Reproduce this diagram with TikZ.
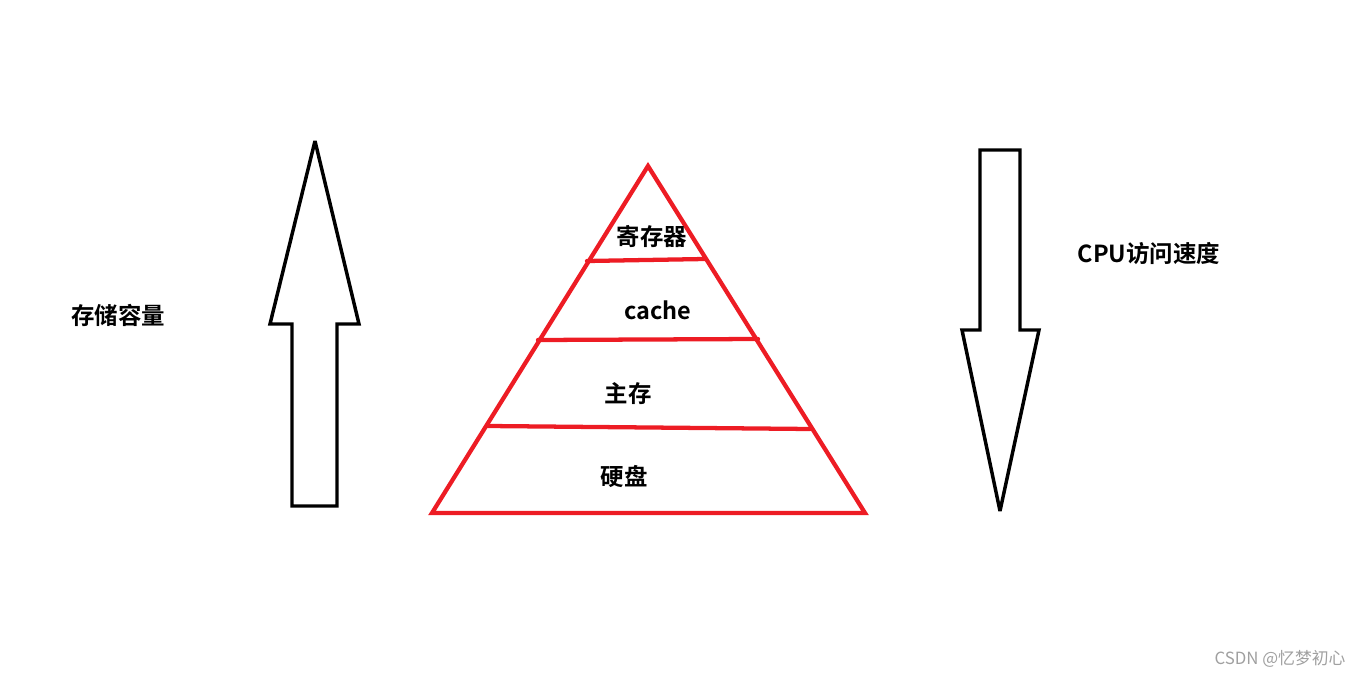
\documentclass[tikz,border=0pt]{standalone}
\usepackage{fontspec}
\setmainfont{Noto Sans CJK SC}
\newfontfamily\cjkb{Noto Sans CJK SC Bold}
\definecolor{pred}{HTML}{ED1C24}
\definecolor{wm}{HTML}{A0A0A0}
\begin{document}
\begin{tikzpicture}[x=0.75pt,y=-0.75pt,
  blk/.style={draw=black,line width=2.6pt,line join=miter,miter limit=4},
  redl/.style={draw=pred,line width=3.2pt,line cap=round,line join=miter},
  lbl/.style={font=\cjkb\fontsize{17.6}{20}\selectfont,inner sep=0pt},
  wmk/.style={font=\fontsize{12.6}{14}\selectfont,text=wm,inner sep=0pt}]
\useasboundingbox (0,0) rectangle (1364,677);
% up arrow
\draw[blk] (315,141) -- (359,324) -- (337,324) -- (337,506) -- (292,506) -- (292,324) -- (270,324) -- cycle;
% down arrow
\draw[blk] (980,150) -- (1020,150) -- (1020,330) -- (1039,330) -- (1000,511) -- (962,330) -- (980,330) -- cycle;
% pyramid
\coordinate (apex) at (648,166);
\coordinate (bl) at (432,513);
\coordinate (br) at (865,513);
\draw[redl] (apex) -- (br) -- (bl) -- cycle;
\coordinate (l1a) at (587,261); \coordinate (l1b) at (705,259);
\coordinate (l2a) at (538,340); \coordinate (l2b) at (758,339);
\coordinate (l3a) at (488,426); \coordinate (l3b) at (810,429);
\draw[redl] (l1a) -- (l1b);
\draw[redl] (l2a) -- (l2b);
\draw[redl] (l3a) -- (l3b);
% labels
\node[lbl] (reg) at (652,237) {寄存器};
\node[lbl] (cache) at (658,310) {cache};
\node[lbl] (mem) at (628,394) {主存};
\node[lbl] (disk) at (624,477) {硬盘};
\node[lbl] (cap) at (118,315) {存储容量};
\node[lbl] (speed) at (1149,254) {CPU访问速度};
\node[wmk] (wm) at (1280,659) {CSDN @忆梦初心};
\end{tikzpicture}
\end{document}
